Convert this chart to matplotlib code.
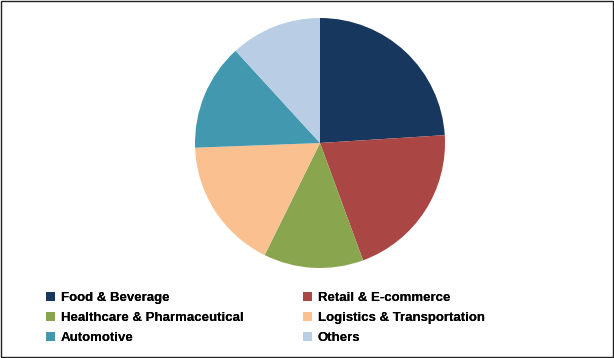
import matplotlib
matplotlib.use("Agg")
import matplotlib.pyplot as plt
from matplotlib.patches import Rectangle

# segment shares (%)
segments = ["Food & Beverage", "Retail & E-commerce", "Healthcare & Pharmaceutical",
            "Logistics & Transportation", "Automotive", "Others"]
shares = [24.0, 20.4, 12.9, 17.1, 13.8, 11.8]
colors = ["#17375E", "#AA4643", "#89A54E", "#FAC090", "#4198AF", "#B9CDE5"]

fig = plt.figure(figsize=(6.14, 3.58), dpi=100)

# pie area
ax = fig.add_axes([(320 - 125) / 614, (358 - 143 - 125) / 358, 250 / 614, 250 / 358])
wedges, _ = ax.pie(shares, colors=colors, startangle=90, counterclock=False,
                   wedgeprops=dict(linewidth=0))
ax.set_xlim(-1, 1)
ax.set_ylim(-1, 1)
ax.set_aspect("equal")
ax.axis("off")

# legend: two columns, filled row by row
font = dict(family="Liberation Sans", weight="bold", size=9.5)
for idx, x0 in [([0, 2, 4], 46), ([1, 3, 5], 303)]:
    leg = fig.legend([wedges[i] for i in idx], [segments[i] for i in idx],
                     loc="upper left", bbox_to_anchor=(x0 / 614, 1 - 292 / 358),
                     frameon=False, borderpad=0, borderaxespad=0,
                     handlelength=0.65, handleheight=0.65, handletextpad=0.45,
                     labelspacing=0.6, prop=font)
    fig.add_artist(leg)

# outer border
fig.patches.append(Rectangle((0.001, 0.002), 0.997, 0.995, transform=fig.transFigure,
                             fill=False, edgecolor="#222222", linewidth=1.0))

fig.savefig("out.png", dpi=100)
